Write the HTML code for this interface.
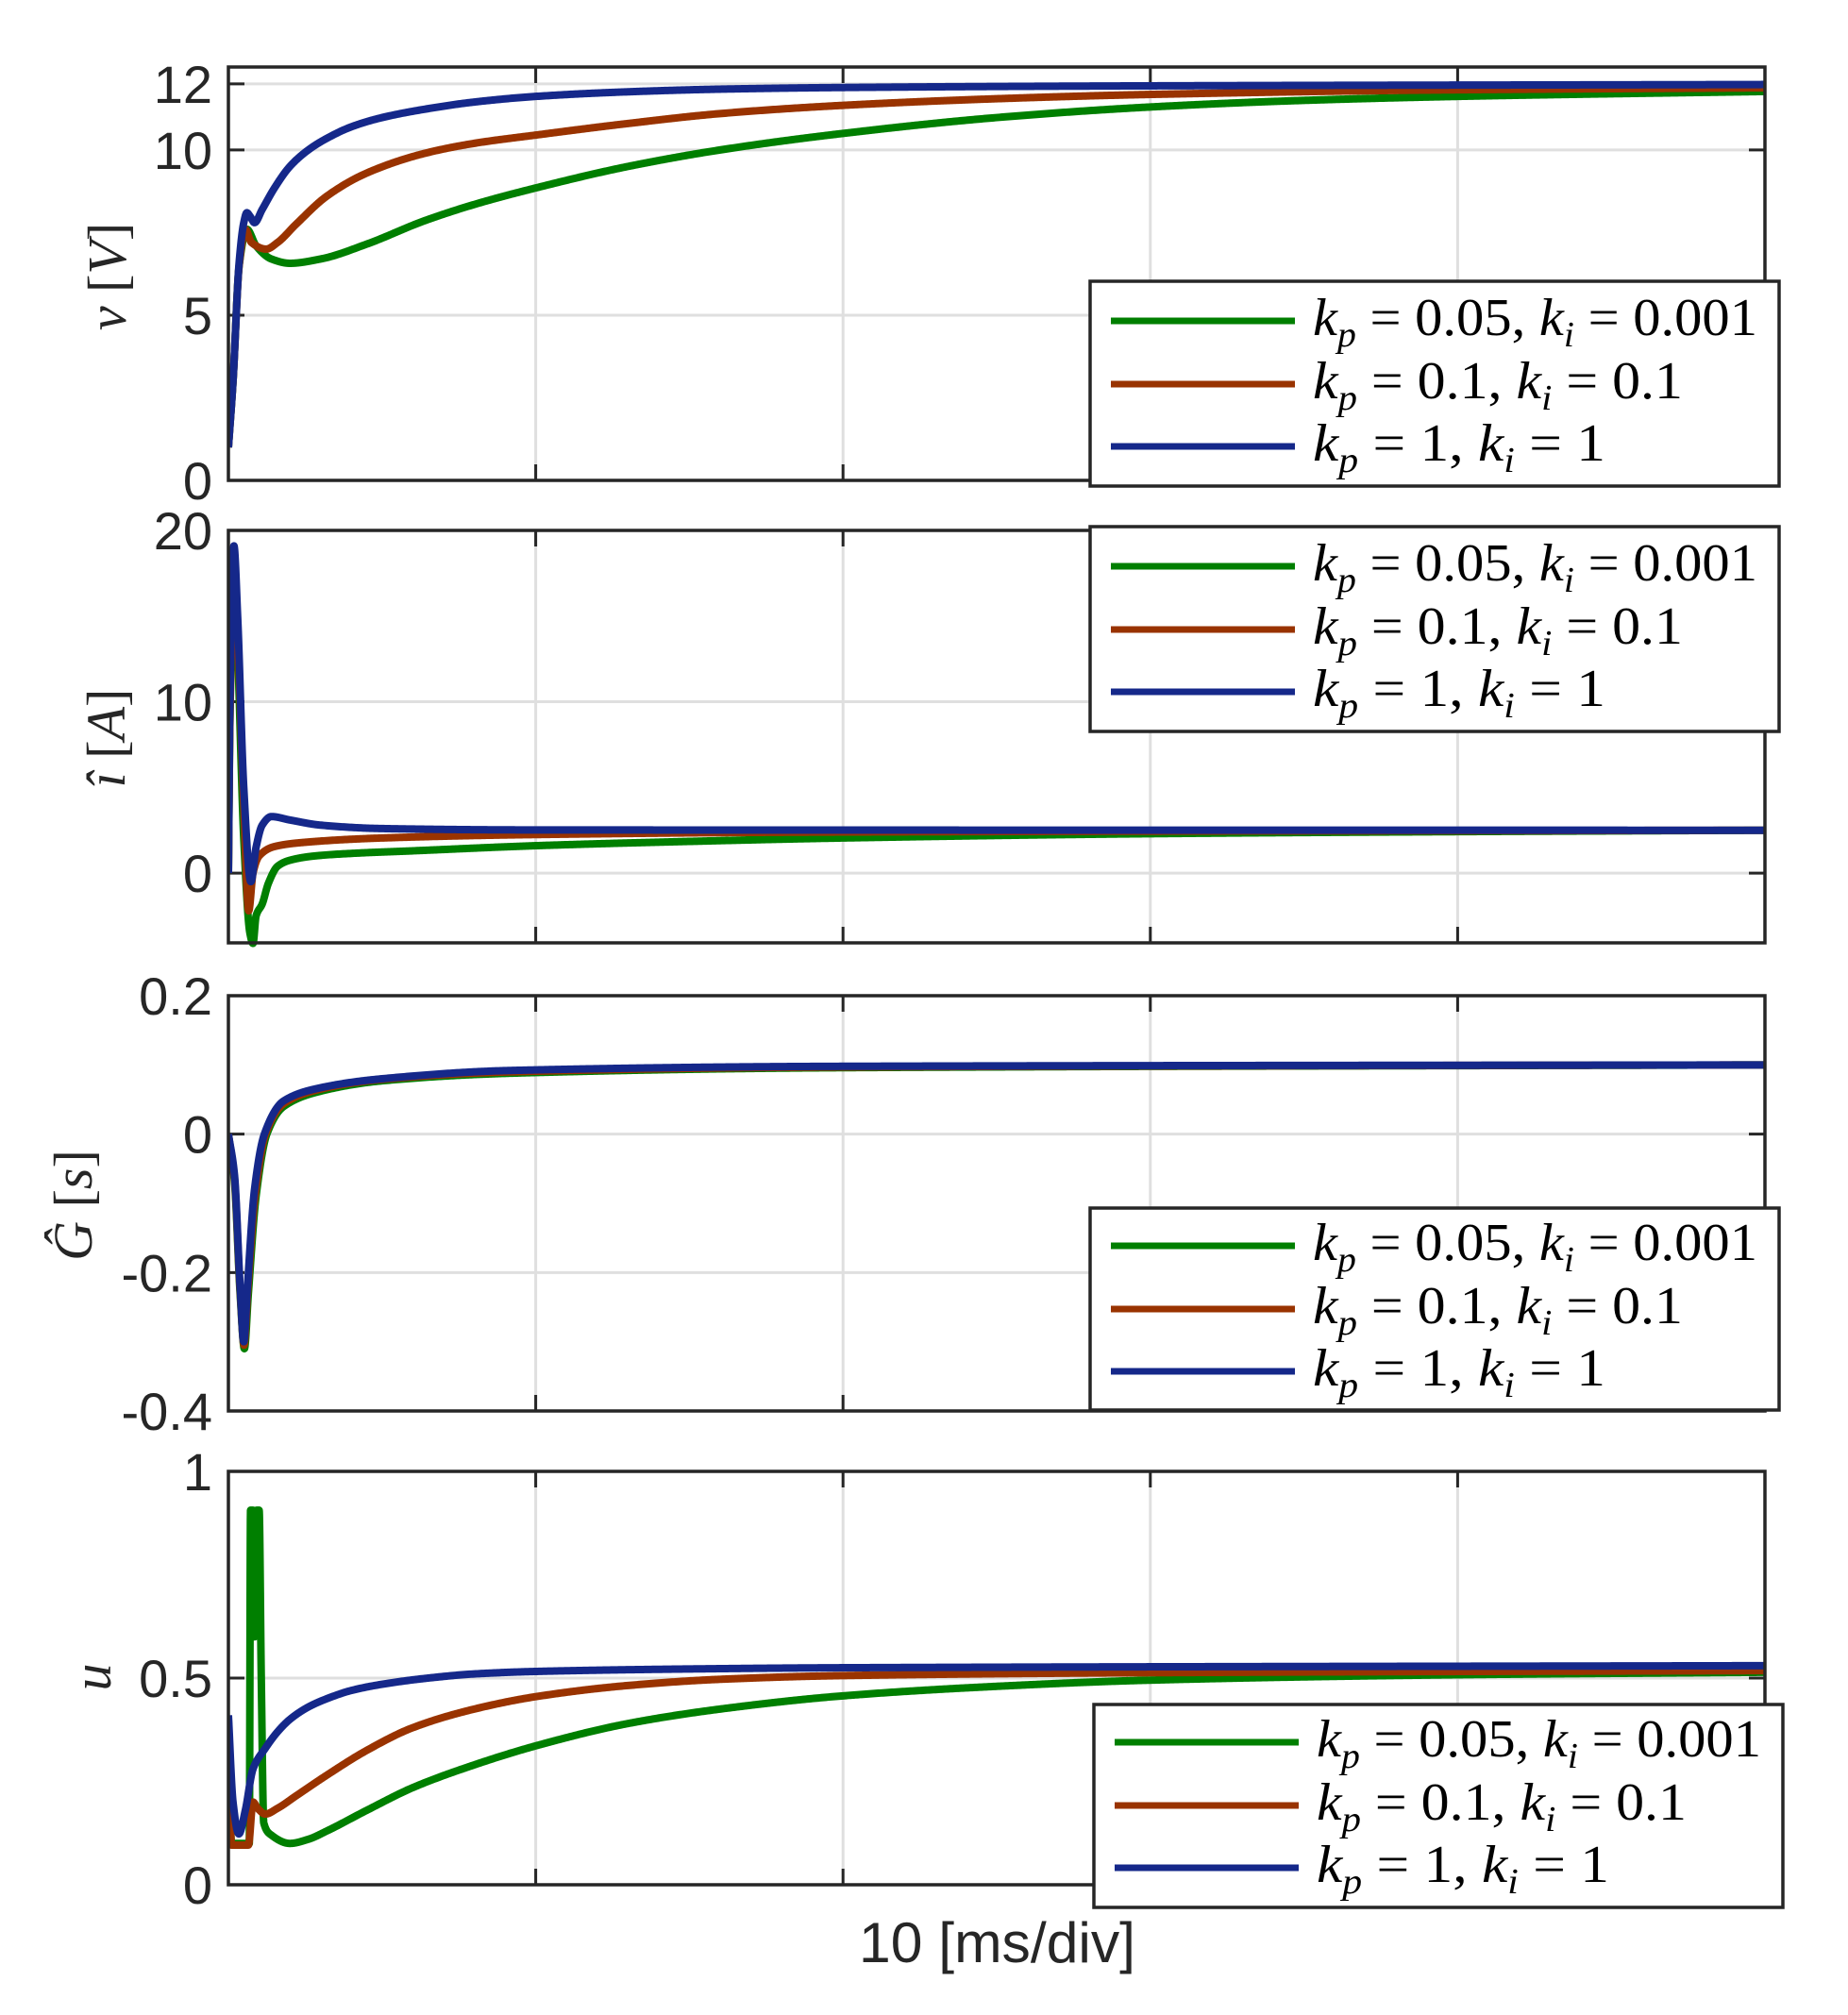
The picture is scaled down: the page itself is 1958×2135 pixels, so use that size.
<!DOCTYPE html>
<html><head><meta charset="utf-8"><style>
html,body{margin:0;padding:0;background:#fff;}
svg{display:block;}
</style></head><body>
<svg id="s" width="1958" height="2135" viewBox="0 0 1958 2135" xmlns="http://www.w3.org/2000/svg"></svg>
<script>
const NS="http://www.w3.org/2000/svg";
const svg=document.getElementById('s');
function el(tag,attrs,parent){const e=document.createElementNS(NS,tag);for(const k in attrs)e.setAttribute(k,attrs[k]);(parent||svg).appendChild(e);return e;}
const X0=242,X1=1870;
const tx=t=>X0+(X1-X0)*t/50;
const AX='#262626',GRID='#dfdfdf';
const COL={g:'#007f00',r:'#993300',b:'#15288a'};
function mono(pts){
 const n=pts.length,xs=pts.map(p=>p[0]),ys=pts.map(p=>p[1]);
 const d=[],m=[];
 for(let i=0;i<n-1;i++)d.push((ys[i+1]-ys[i])/(xs[i+1]-xs[i]));
 m[0]=d[0];m[n-1]=d[n-2];
 for(let i=1;i<n-1;i++){ if(d[i-1]*d[i]<=0)m[i]=0; else {const w1=2*(xs[i+1]-xs[i])+(xs[i]-xs[i-1]),w2=(xs[i+1]-xs[i])+2*(xs[i]-xs[i-1]);m[i]=(w1+w2)/(w1/d[i-1]+w2/d[i]);}}
 return t=>{let i=0;while(i<n-2&&t>xs[i+1])i++;const h=xs[i+1]-xs[i],s=(t-xs[i])/h;
  const h00=2*s*s*s-3*s*s+1,h10=s*s*s-2*s*s+s,h01=-2*s*s*s+3*s*s,h11=s*s*s-s*s;
  return h00*ys[i]+h10*h*m[i]+h01*ys[i+1]+h11*h*m[i+1];};
}
function curve(pts,ty,col,clip){
 const f=mono(pts);let d='';
 for(let t=0;t<=50.0001;t+=(t<3?0.004:0.05)){const x=tx(t),y=ty(f(t));d+=(d?'L':'M')+x.toFixed(2)+' '+y.toFixed(2);}
 el('path',{d:d,fill:'none',stroke:col,'stroke-width':8,'stroke-linejoin':'round','clip-path':'url(#'+clip+')'});
}
const defs=el('defs',{});
function panel(id,top,bot,ymin,ymax,ticks,labels,ylabel,lx,ly){
 const ty=v=>bot-(v-ymin)/(ymax-ymin)*(bot-top);
 const cp=el('clipPath',{id:id},defs);el('rect',{x:X0,y:top-6,width:X1-X0,height:bot-top+12},cp);
 for(let k=1;k<5;k++){const x=tx(10*k);el('line',{x1:x,x2:x,y1:top,y2:bot,stroke:GRID,'stroke-width':3});}
 ticks.forEach(v=>{const y=ty(v);el('line',{x1:X0,x2:X1,y1:y,y2:y,stroke:GRID,'stroke-width':3});});
 for(let k=1;k<5;k++){const x=tx(10*k);el('line',{x1:x,x2:x,y1:top,y2:top+17,stroke:AX,'stroke-width':3});el('line',{x1:x,x2:x,y1:bot,y2:bot-17,stroke:AX,'stroke-width':3});}
 ticks.forEach((v,i)=>{const y=ty(v);el('line',{x1:X0,x2:X0+17,y1:y,y2:y,stroke:AX,'stroke-width':3});el('line',{x1:X1,x2:X1-17,y1:y,y2:y,stroke:AX,'stroke-width':3});
  const t=el('text',{x:225,y:y+20,'text-anchor':'end','font-family':'Liberation Sans, sans-serif','font-size':56,fill:AX});t.textContent=labels[i];});
 const yl=el('text',{x:0,y:0,transform:'translate('+lx+','+ly+') rotate(-90)','text-anchor':'middle','font-family':'Liberation Serif, serif','font-size':58,fill:AX});
 yl.innerHTML=ylabel;
 return {ty:ty,id:id,top:top,bot:bot};
}
function frame(p){el('rect',{x:X0,y:p.top,width:X1-X0,height:p.bot-p.top,fill:'none',stroke:AX,'stroke-width':3.5});}
function legend(x,y,w,h,rows){
 el('rect',{x:x,y:y,width:w,height:h,fill:'#fff',stroke:AX,'stroke-width':3.5});
 const items=[[COL.g,'0.05','0.001',471],[COL.r,'0.1','0.1',392],[COL.b,'1','1',310]];
 items.forEach((it,i)=>{const ry=rows[i];
  el('line',{x1:x+22,x2:x+217,y1:ry,y2:ry,stroke:it[0],'stroke-width':7});
  const t=el('text',{x:x+236,y:ry+15,'font-family':'Liberation Serif, serif','font-size':56,fill:'#000',textLength:it[3],lengthAdjust:'spacingAndGlyphs'});
  t.innerHTML='<tspan font-style="italic">k</tspan><tspan font-style="italic" font-size="38" dy="12">p</tspan><tspan dy="-12"> = '+it[1]+', </tspan><tspan font-style="italic">k</tspan><tspan font-style="italic" font-size="38" dy="12">i</tspan><tspan dy="-12"> = '+it[2]+'</tspan>';
 });
}
// Panel 1
const p1=panel('c1',71,509,0,12.51,[0,5,10,12],['0','5','10','12'],'<tspan font-style="italic">v</tspan> [<tspan font-style="italic">V</tspan>]',133,293);
curve([[0,1],[0.15,3],[0.35,6.5],[0.6,7.6],[0.9,7.1],[1.4,6.7],[2.0,6.57],[3,6.7],[4.5,7.15],[6.36,7.85],[8,8.35],[10,8.85],[13,9.5],[16,10.0],[20,10.5],[25,10.98],[30,11.3],[35,11.5],[40,11.62],[50,11.77]],p1.ty,COL.g,'c1');
curve([[0,1],[0.15,3],[0.35,6.5],[0.55,7.6],[0.75,7.2],[1.23,7.0],[1.6,7.2],[2.2,7.75],[3.2,8.6],[4.5,9.3],[6.4,9.9],[8,10.2],[10,10.45],[13,10.8],[16,11.1],[20,11.35],[25,11.55],[30,11.68],[40,11.82],[50,11.88]],p1.ty,COL.r,'c1');
curve([[0,1],[0.15,3],[0.35,6.6],[0.5,7.8],[0.6,8.1],[0.7,8.0],[0.85,7.8],[1.1,8.2],[1.5,8.85],[2,9.5],[2.6,10.0],[3.2,10.35],[4,10.7],[5,10.98],[6.5,11.25],[8,11.45],[10,11.62],[13,11.76],[16,11.84],[20,11.89],[30,11.94],[50,11.98]],p1.ty,COL.b,'c1');
frame(p1);
legend(1155,298,730,217,[340,407,473]);
// Panel 2
const p2=panel('c2',562,999,-4.07,20,[0,10,20],['0','10','20'],'<tspan font-style="italic">î</tspan> [<tspan font-style="italic">A</tspan>]',132,782);
curve([[0,0],[0.05,9],[0.18,18],[0.3,13],[0.5,2],[0.7,-3.5],[0.8,-4.1],[0.9,-2.5],[1.1,-1.8],[1.3,-0.6],[1.6,0.4],[2,0.75],[2.8,1.0],[4,1.15],[6,1.3],[10,1.6],[15,1.85],[20,2.05],[30,2.3],[40,2.42],[50,2.5]],p2.ty,COL.g,'c2');
curve([[0,0],[0.05,9],[0.18,18],[0.3,14],[0.5,4],[0.66,-2.2],[0.8,0],[1,1.0],[1.5,1.55],[2.5,1.8],[5,2.05],[10,2.25],[20,2.4],[50,2.5]],p2.ty,COL.r,'c2');
curve([[0,0],[0.05,10],[0.18,19.1],[0.3,15],[0.5,5],[0.73,-0.5],[0.9,1.5],[1.1,2.8],[1.4,3.3],[2,3.1],[3,2.8],[5,2.6],[10,2.52],[50,2.5]],p2.ty,COL.b,'c2');
frame(p2);
legend(1155,558,730,217,[600,667,733]);
// Panel 3
const p3=panel('c3',1055,1495,-0.4,0.2,[-0.4,-0.2,0,0.2],['-0.4','-0.2','0','0.2'],'<tspan font-style="italic">Ĝ</tspan> [<tspan font-style="italic">s</tspan>]',97,1277);
curve([[0,0],[0.2,-0.07],[0.38,-0.23],[0.52,-0.31],[0.65,-0.23],[0.9,-0.09],[1.25,0],[1.8,0.04],[3,0.062],[5,0.077],[9.2,0.088],[20,0.096],[50,0.1]],p3.ty,COL.g,'c3');
curve([[0,0],[0.2,-0.065],[0.38,-0.225],[0.51,-0.305],[0.63,-0.225],[0.88,-0.085],[1.21,0],[1.8,0.044],[3,0.065],[5,0.079],[9.2,0.09],[20,0.097],[50,0.1]],p3.ty,COL.r,'c3');
curve([[0,0],[0.2,-0.06],[0.38,-0.22],[0.5,-0.3],[0.62,-0.22],[0.85,-0.08],[1.17,0],[1.8,0.048],[3,0.067],[5,0.08],[9.2,0.092],[20,0.098],[50,0.1]],p3.ty,COL.b,'c3');
frame(p3);
legend(1155,1280,730,214,[1320,1387,1453]);
// Panel 4
const p4=panel('c4',1559,1997,0,1,[0,0.5,1],['0','0.5','1'],'<tspan font-style="italic">u</tspan>',117,1777);
curve([[0,0.4],[0.05,0.2],[0.1,0.1],[0.68,0.1],[0.72,0.906],[0.8,0.906],[0.86,0.6],[0.92,0.906],[1.0,0.906],[1.07,0.5],[1.15,0.15],[1.4,0.12],[2.0,0.1],[2.6,0.11],[3.2,0.13],[4.5,0.18],[6,0.235],[8,0.29],[10,0.336],[13,0.39],[16,0.425],[20,0.457],[25,0.48],[30,0.495],[40,0.508],[50,0.514]],p4.ty,COL.g,'c4');
curve([[0,0.4],[0.05,0.2],[0.1,0.096],[0.65,0.096],[0.8,0.2],[0.95,0.185],[1.2,0.171],[1.6,0.185],[2.2,0.215],[3.2,0.265],[4.5,0.325],[6,0.38],[8,0.425],[10,0.455],[13,0.482],[16,0.497],[20,0.506],[30,0.513],[50,0.518]],p4.ty,COL.r,'c4');
curve([[0,0.41],[0.15,0.2],[0.34,0.123],[0.55,0.18],[0.8,0.28],[1.2,0.33],[1.6,0.37],[2,0.4],[2.6,0.43],[3.2,0.45],[4,0.47],[5,0.485],[6.5,0.5],[8,0.51],[10,0.516],[15,0.522],[20,0.525],[50,0.53]],p4.ty,COL.b,'c4');
frame(p4);
legend(1159,1806,730,215,[1846,1913,1979]);
const xl=el('text',{x:910,y:2079,'font-family':'Liberation Sans, sans-serif','font-size':60,fill:AX,textLength:293,lengthAdjust:'spacingAndGlyphs'});
xl.textContent='10 [ms/div]';
</script>
</body></html>
